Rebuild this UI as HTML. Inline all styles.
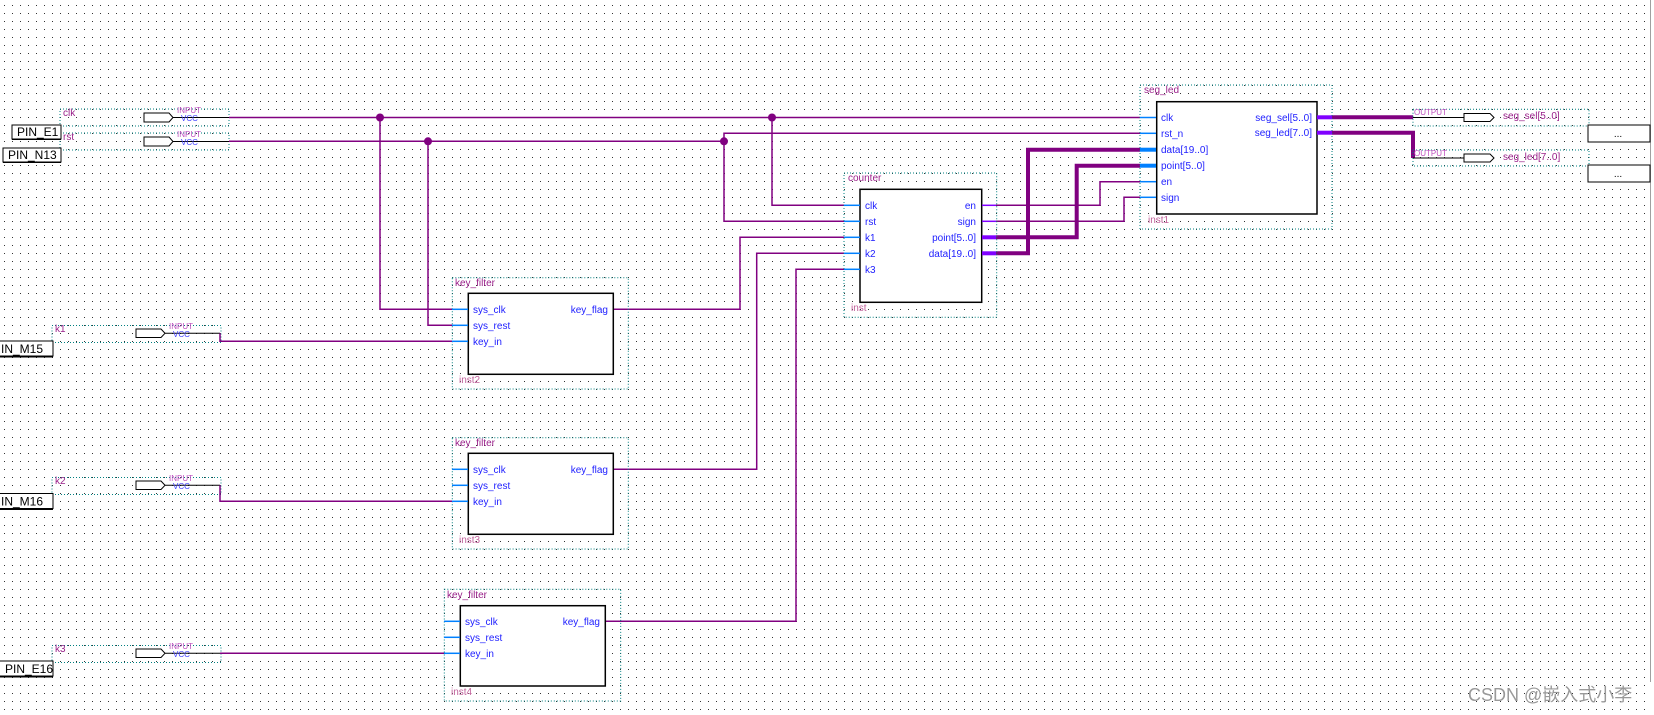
<!DOCTYPE html>
<html><head><meta charset="utf-8"><style>
html,body{margin:0;padding:0;background:#fff;}
svg{display:block;}
text{font-family:"Liberation Sans",Arial,sans-serif;}
.pl{font-size:10px;fill:#2020ff;}
.tt{font-size:10px;fill:#9a208a;}
.in{font-size:10px;fill:#c0609a;}
.w{stroke:#800080;stroke-width:1.5;fill:none;}
.b{stroke:#800080;stroke-width:4;fill:none;}
.st{stroke:#0080ff;stroke-width:1.5;}
.fr{fill:none;stroke:#008080;stroke-width:1;stroke-dasharray:1,2;}
.bx{fill:#fff;stroke:#000;stroke-width:1.5;}
.ip{font-size:8px;fill:#c050c0;}
.vc{font-size:8px;fill:#4040ff;}
.pin{font-size:12px;fill:#000;}
</style></head><body>
<svg width="1654" height="715" xmlns="http://www.w3.org/2000/svg">
<defs><pattern id="g" x="4" y="5" width="8" height="8" patternUnits="userSpaceOnUse"><rect x="0" y="0" width="1" height="1" fill="#333"/></pattern></defs>
<rect width="1654" height="715" fill="#fff"/>
<rect width="1648" height="715" fill="url(#g)"/>
<line x1="1650.5" y1="0" x2="1650.5" y2="682" stroke="#a0a0a0" stroke-width="1"/>

<g>
<rect x="60" y="109" width="169" height="17" class="fr"/><text x="63" y="116" class="tt" font-size="9">clk</text>
<path d="M144 113H169L173 117.5L169 122H144Z" fill="#fff" stroke="#000"/><line x1="173" y1="117.5" x2="229" y2="117.5" stroke="#000"/>
<text x="177" y="113" class="ip">INPUT</text><text x="181" y="121" class="vc">VCC</text>
<rect x="60" y="133" width="169" height="17" class="fr"/><text x="63" y="140" class="tt" font-size="9">rst</text>
<path d="M144 137H169L173 141.5L169 146H144Z" fill="#fff" stroke="#000"/><line x1="173" y1="141.5" x2="229" y2="141.5" stroke="#000"/>
<text x="177" y="137" class="ip">INPUT</text><text x="181" y="145" class="vc">VCC</text>
<rect x="12" y="125" width="49" height="14" fill="#fff" stroke="#000"/><line x1="12" y1="139.5" x2="61" y2="139.5" stroke="#000"/><text x="17" y="136" class="pin">PIN_E1</text>
<rect x="3" y="148" width="58" height="14" fill="#fff" stroke="#000"/><line x1="3" y1="162.5" x2="61" y2="162.5" stroke="#000"/><text x="8" y="159" class="pin">PIN_N13</text>

<rect x="52" y="325.5" width="169" height="17" class="fr"/><text x="55" y="332" class="tt" font-size="9">k1</text>
<path d="M136 329H161L165 333.3L161 337.5H136Z" fill="#fff" stroke="#000"/><line x1="165" y1="333.3" x2="220" y2="333.3" stroke="#000"/>
<text x="169" y="329" class="ip">INPUT</text><text x="173" y="337" class="vc">VCC</text>
<rect x="-2" y="341" width="55" height="15" fill="#fff" stroke="#000"/><line x1="-2" y1="357" x2="53" y2="357" stroke="#000"/><text x="1" y="353" class="pin">IN_M15</text>

<rect x="52" y="477.5" width="169" height="17" class="fr"/><text x="55" y="484" class="tt" font-size="9">k2</text>
<path d="M136 481H161L165 485.3L161 489.5H136Z" fill="#fff" stroke="#000"/><line x1="165" y1="485.3" x2="220" y2="485.3" stroke="#000"/>
<text x="169" y="481" class="ip">INPUT</text><text x="173" y="489" class="vc">VCC</text>
<rect x="-2" y="493.5" width="55" height="15" fill="#fff" stroke="#000"/><line x1="-2" y1="509.5" x2="53" y2="509.5" stroke="#000"/><text x="1" y="505.5" class="pin">IN_M16</text>

<rect x="52" y="645.5" width="169" height="17" class="fr"/><text x="55" y="652" class="tt" font-size="9">k3</text>
<path d="M136 649H161L165 653.3L161 657.5H136Z" fill="#fff" stroke="#000"/><line x1="165" y1="653.3" x2="220" y2="653.3" stroke="#000"/>
<text x="169" y="649" class="ip">INPUT</text><text x="173" y="657" class="vc">VCC</text>
<rect x="-2" y="661" width="55" height="15" fill="#fff" stroke="#000"/><line x1="-2" y1="677" x2="53" y2="677" stroke="#000"/><text x="5" y="673" class="pin">PIN_E16</text>
</g>

<path class="w" d="M229 117.5H1140"/>
<path class="w" d="M229 141.3H724V133.3H1140"/>
<path class="w" d="M724 141.3V221.3H844"/>
<path class="w" d="M772 117.5V205.3H844"/>
<path class="w" d="M380 117.5V309.3H452"/>
<path class="w" d="M428 141.3V325.3H452"/>
<path class="w" d="M220 333.3V341.3H452"/>
<path class="w" d="M220 485.3V501.3H452"/>
<path class="w" d="M220 653.3H444"/>
<path class="w" d="M613 309.3H740V237.3H844"/>
<path class="w" d="M613 469.3H756.7V253.3H844"/>
<path class="w" d="M605 621.3H796V269.3H844"/>
<path class="w" d="M996 205.3H1100V181.7H1140"/>
<path class="w" d="M996 221.3H1124V197.3H1140"/>
<path class="b" d="M996 237.3H1076.7V165.7H1140"/>
<path class="b" d="M996 253.3H1028V149.7H1140"/>
<path class="b" d="M1332 117.3H1413"/>
<path class="b" d="M1332 132.7H1413V158"/>
<g fill="#800080"><circle cx="380" cy="117.5" r="4"/><circle cx="772" cy="117.5" r="4"/><circle cx="428" cy="141.3" r="4"/><circle cx="724" cy="141.3" r="4"/></g>

<g>
<rect x="452.3" y="277.7" width="176" height="111.3" class="fr"/>
<rect x="468.3" y="293.3" width="145" height="81" class="bx"/>
<text x="455" y="286" class="tt">key_filter</text><text x="459" y="383" class="in">inst2</text>
<line x1="452" y1="309.3" x2="468" y2="309.3" class="st"/><line x1="452" y1="325.3" x2="468" y2="325.3" class="st"/><line x1="452" y1="341.3" x2="468" y2="341.3" class="st"/>
<text x="473" y="313" class="pl">sys_clk</text><text x="473" y="329" class="pl">sys_rest</text><text x="473" y="345" class="pl">key_in</text>
<text x="608" y="313" class="pl" text-anchor="end">key_flag</text>
</g>
<g>
<rect x="452.3" y="437.7" width="176" height="111.3" class="fr"/>
<rect x="468.3" y="453.3" width="145" height="81" class="bx"/>
<text x="455" y="446" class="tt">key_filter</text><text x="459" y="543" class="in">inst3</text>
<line x1="452" y1="469.3" x2="468" y2="469.3" class="st"/><line x1="452" y1="485.3" x2="468" y2="485.3" class="st"/><line x1="452" y1="501.3" x2="468" y2="501.3" class="st"/>
<text x="473" y="473" class="pl">sys_clk</text><text x="473" y="489" class="pl">sys_rest</text><text x="473" y="505" class="pl">key_in</text>
<text x="608" y="473" class="pl" text-anchor="end">key_flag</text>
</g>
<g>
<rect x="444.3" y="589.3" width="176.4" height="111.7" class="fr"/>
<rect x="460.3" y="605.7" width="145" height="80.3" class="bx"/>
<text x="447" y="598" class="tt">key_filter</text><text x="451" y="695" class="in">inst4</text>
<line x1="444" y1="621.3" x2="460" y2="621.3" class="st"/><line x1="444" y1="637.3" x2="460" y2="637.3" class="st"/><line x1="444" y1="653.3" x2="460" y2="653.3" class="st"/>
<text x="465" y="625" class="pl">sys_clk</text><text x="465" y="641" class="pl">sys_rest</text><text x="465" y="657" class="pl">key_in</text>
<text x="600" y="625" class="pl" text-anchor="end">key_flag</text>
</g>

<g>
<rect x="844" y="173" width="152.7" height="144.3" class="fr"/>
<rect x="860" y="189.3" width="121.7" height="113" class="bx"/>
<text x="848" y="181" class="tt">counter</text><text x="851" y="311" class="in">inst</text>
<line x1="844" y1="205.3" x2="860" y2="205.3" class="st"/><line x1="844" y1="221.3" x2="860" y2="221.3" class="st"/><line x1="844" y1="237.3" x2="860" y2="237.3" class="st"/><line x1="844" y1="253.3" x2="860" y2="253.3" class="st"/><line x1="844" y1="269.3" x2="860" y2="269.3" class="st"/>
<text x="865" y="209" class="pl">clk</text><text x="865" y="225" class="pl">rst</text><text x="865" y="241" class="pl">k1</text><text x="865" y="257" class="pl">k2</text><text x="865" y="273" class="pl">k3</text>
<text x="976" y="209" class="pl" text-anchor="end">en</text><text x="976" y="225" class="pl" text-anchor="end">sign</text><text x="976" y="241" class="pl" text-anchor="end">point[5..0]</text><text x="976" y="257" class="pl" text-anchor="end">data[19..0]</text>
<line x1="982" y1="205.3" x2="996" y2="205.3" stroke="#8000ff" stroke-width="1.5"/><line x1="982" y1="221.3" x2="996" y2="221.3" stroke="#8000ff" stroke-width="1.5"/>
<line x1="982" y1="237.3" x2="996" y2="237.3" stroke="#8000ff" stroke-width="4"/><line x1="982" y1="253.3" x2="996" y2="253.3" stroke="#8000ff" stroke-width="4"/>
</g>

<g>
<rect x="1140" y="85" width="192" height="144" class="fr"/>
<rect x="1156.7" y="101.7" width="160.3" height="112.3" class="bx"/>
<text x="1144" y="93" class="tt">seg_led</text><text x="1148" y="223" class="in">inst1</text>
<line x1="1140" y1="117.5" x2="1156" y2="117.5" class="st"/><line x1="1140" y1="133.3" x2="1156" y2="133.3" class="st"/>
<line x1="1140" y1="149.7" x2="1156" y2="149.7" stroke="#0080ff" stroke-width="4"/><line x1="1140" y1="165.7" x2="1156" y2="165.7" stroke="#0080ff" stroke-width="4"/>
<line x1="1140" y1="181.7" x2="1156" y2="181.7" class="st"/><line x1="1140" y1="197.3" x2="1156" y2="197.3" class="st"/>
<text x="1161" y="121" class="pl">clk</text><text x="1161" y="137" class="pl">rst_n</text><text x="1161" y="153" class="pl">data[19..0]</text><text x="1161" y="169" class="pl">point[5..0]</text><text x="1161" y="185" class="pl">en</text><text x="1161" y="201" class="pl">sign</text>
<text x="1312" y="121" class="pl" text-anchor="end">seg_sel[5..0]</text><text x="1312" y="136" class="pl" text-anchor="end">seg_led[7..0]</text>
<line x1="1317" y1="117.3" x2="1332" y2="117.3" stroke="#8000ff" stroke-width="4"/><line x1="1317" y1="132.7" x2="1332" y2="132.7" stroke="#8000ff" stroke-width="4"/>
</g>

<g>
<rect x="1413" y="109.3" width="176" height="16.7" class="fr"/>
<text x="1414" y="115" class="ip">OUTPUT</text>
<line x1="1413" y1="117.5" x2="1464" y2="117.5" stroke="#000"/>
<path d="M1464 113.5H1490L1494 117.5L1490 121.5H1464Z" fill="#fff" stroke="#000"/>
<text x="1503" y="119" class="tt">seg_sel[5..0]</text>
<rect x="1413" y="150" width="176" height="16" class="fr"/>
<text x="1414" y="156" class="ip">OUTPUT</text>
<line x1="1413" y1="158" x2="1464" y2="158" stroke="#000"/>
<path d="M1464 154H1490L1494 158L1490 162H1464Z" fill="#fff" stroke="#000"/>
<text x="1503" y="160" class="tt">seg_led[7..0]</text>
<rect x="1588" y="125" width="62" height="17" fill="#fff" stroke="#000"/><text x="1618" y="137" font-size="10" text-anchor="middle">...</text>
<rect x="1588" y="165" width="62" height="17" fill="#fff" stroke="#000"/><text x="1618" y="177" font-size="10" text-anchor="middle">...</text>
</g>

<text x="1468" y="701" font-size="18" fill="#999" style='font-family:"Liberation Sans","Noto Sans CJK SC",sans-serif'>CSDN @嵌入式小李</text>
</svg>
</body></html>
